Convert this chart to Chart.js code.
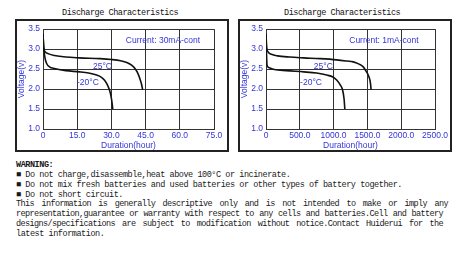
<!DOCTYPE html>
<html lang="en">
<head>
  <meta charset="UTF-8">
  <title>Discharge Characteristics</title>
  <script src="https://cdn.jsdelivr.net/npm/chart.js"></script>
  <style>
    body { margin: 0; background: #fff; width: 474px; height: 261px; position: relative; overflow: hidden; }
    .title { position: absolute; top: 8px; font: 8.5px "Liberation Mono", monospace; letter-spacing: -0.45px; color: #111; white-space: pre; }
    .box { position: absolute; top: 19px; width: 210px; height: 129px; border: 2px solid #222; }
    .box canvas { display: block; }
    .warn { position: absolute; left: 16px; top: 161px; font: 8.5px "Liberation Mono", monospace; letter-spacing: -0.45px; line-height: 9.85px; color: #1a1a1a; white-space: pre; }
    .warn .j { white-space: nowrap; letter-spacing: -0.6px; text-align: justify; text-align-last: justify; }
  </style>
</head>
<body>
  <div class="title" style="left:62px">Discharge Characteristics</div>
  <div class="title" style="left:284px">Discharge Characteristics</div>
  <div class="box" style="left:15px"><canvas id="c1" width="210" height="129"></canvas></div>
  <div class="box" style="left:238px"><canvas id="c2" width="210" height="129"></canvas></div>

  <div class="warn"><b>WARNING:</b>
■ Do not charge,disassemble,heat above 100°C or incinerate.
■ Do not mix fresh batteries and used batteries or other types of battery together.
■ Do not short circuit.
<div class="j" style="width:432px">This information is generally descriptive only and is not intended to make or imply any</div><div class="j" style="width:427px">representation,guarantee or warranty with respect to any cells and batteries.Cell and battery</div><div class="j" style="width:427px">designs/specifications are subject to modification without notice.Contact Huiderui for the</div>latest information.</div>

  <script>
    // 30mA panel
    const hours30 = [0, 15, 30, 45, 60, 75];
    const t25a = [0, 0.3, 1, 2.5, 5, 10, 16, 25, 30, 34, 37, 39, 40.5, 41.7, 42.6, 43.3, 43.7];
    const v25a = [3.38, 3.05, 2.93, 2.88, 2.84, 2.8, 2.78, 2.76, 2.74, 2.71, 2.66, 2.59, 2.5, 2.38, 2.24, 2.1, 1.98];
    const tm20a = [0, 0.3, 0.8, 1.6, 3, 4.5, 10, 16, 20, 23.5, 25.5, 27, 28.3, 29.3, 29.9, 30.3, 30.6];
    const vm20a = [3.38, 3.05, 2.8, 2.64, 2.55, 2.52, 2.46, 2.43, 2.4, 2.35, 2.3, 2.22, 2.1, 1.95, 1.8, 1.65, 1.5];

    // 1mA panel
    const hours1 = [0, 500, 1000, 1500, 2000, 2500];
    const t25b = [0, 10, 30, 80, 170, 350, 560, 800, 1045, 1200, 1290, 1370, 1435, 1480, 1522, 1545, 1555];
    const v25b = [3.38, 3.05, 2.93, 2.87, 2.83, 2.8, 2.78, 2.76, 2.73, 2.7, 2.68, 2.63, 2.56, 2.45, 2.31, 2.15, 1.98];
    const tm20b = [0, 5, 10, 15, 40, 122, 300, 560, 750, 900, 990, 1045, 1100, 1133, 1155, 1166];
    const vm20b = [3.38, 3.0, 2.75, 2.6, 2.54, 2.49, 2.46, 2.43, 2.4, 2.35, 2.3, 2.225, 2.1, 1.975, 1.75, 1.5];

    const voltTicks = [1.0, 1.5, 2.0, 2.5, 3.0, 3.5];

    // text labels inside the plot: [text, x, y] in data units
    const notes30 = [['Current: 30mA-cont', 52.6, 3.2], ['25°C', 26.1, 2.55], ['-20°C', 19.7, 2.15]];
    const notes1 = [['Current: 1mA-cont', 1745, 3.2], ['25°C', 848, 2.55], ['-20°C', 666, 2.15]];

    const blue = 'rgb(52,52,215)';
    const grid = '#333';
    const sans = '"Liberation Sans", Arial, sans-serif';

    const notesPlugin = {
      id: 'notes',
      afterDatasetsDraw(chart, args, opts) {
        const ctx = chart.ctx;
        ctx.save();
        ctx.fillStyle = blue;
        ctx.font = '8.5px ' + sans;
        ctx.textAlign = 'center';
        ctx.textBaseline = 'middle';
        opts.items.forEach(n => {
          ctx.fillText(n[0], chart.scales.x.getPixelForValue(n[1]), chart.scales.y.getPixelForValue(n[2]));
        });
        ctx.restore();
      }
    };

    function pts(xs, ys) { return xs.map((x, i) => ({x: x, y: ys[i]})); }

    function makeChart(id, ticks, a25, b25, a20, b20, notes) {
      new Chart(document.getElementById(id), {
        type: 'line',
        data: {
          datasets: [
            { data: pts(a25, b25), borderColor: '#111', borderWidth: 1.6, pointRadius: 0, cubicInterpolationMode: 'monotone' },
            { data: pts(a20, b20), borderColor: '#111', borderWidth: 1.6, pointRadius: 0, cubicInterpolationMode: 'monotone' }
          ]
        },
        options: {
          responsive: false,
          animation: false,
          layout: { padding: { left: 0, top: 8, right: 13, bottom: 0 } },
          plugins: { legend: { display: false }, tooltip: { enabled: false }, notes: { items: notes } },
          scales: {
            x: {
              type: 'linear',
              min: ticks[0], max: ticks[ticks.length - 1],
              afterBuildTicks: s => { s.ticks = ticks.map(v => ({value: v})); },
              afterFit: s => { s.height = 21; },
              ticks: { color: blue, font: { family: sans, size: 8.5 }, padding: 2, maxRotation: 0, autoSkip: false,
                       callback: v => v === 0 ? '0' : v.toFixed(1) },
              grid: { color: grid, lineWidth: 1, drawTicks: false },
              border: { color: grid, width: 1 },
              title: { display: true, text: 'Duration(hour)', color: blue, font: { family: sans, size: 8.5 }, padding: { top: 0, bottom: -1 } }
            },
            y: {
              min: 1, max: 3.5,
              afterBuildTicks: s => { s.ticks = voltTicks.map(v => ({value: v})); },
              afterFit: s => { s.width = 26; },
              ticks: { color: blue, font: { family: sans, size: 8.5 }, padding: 3, callback: v => v.toFixed(1) },
              grid: { color: grid, lineWidth: 1, drawTicks: false },
              border: { color: grid, width: 1 },
              title: { display: true, text: 'Voltage(v)', color: blue, font: { family: sans, size: 8.5 }, padding: { top: 0, bottom: 0 } }
            }
          }
        },
        plugins: [notesPlugin]
      });
    }

    makeChart('c1', hours30, t25a, v25a, tm20a, vm20a, notes30);
    makeChart('c2', hours1, t25b, v25b, tm20b, vm20b, notes1);
  </script>
</body>
</html>
